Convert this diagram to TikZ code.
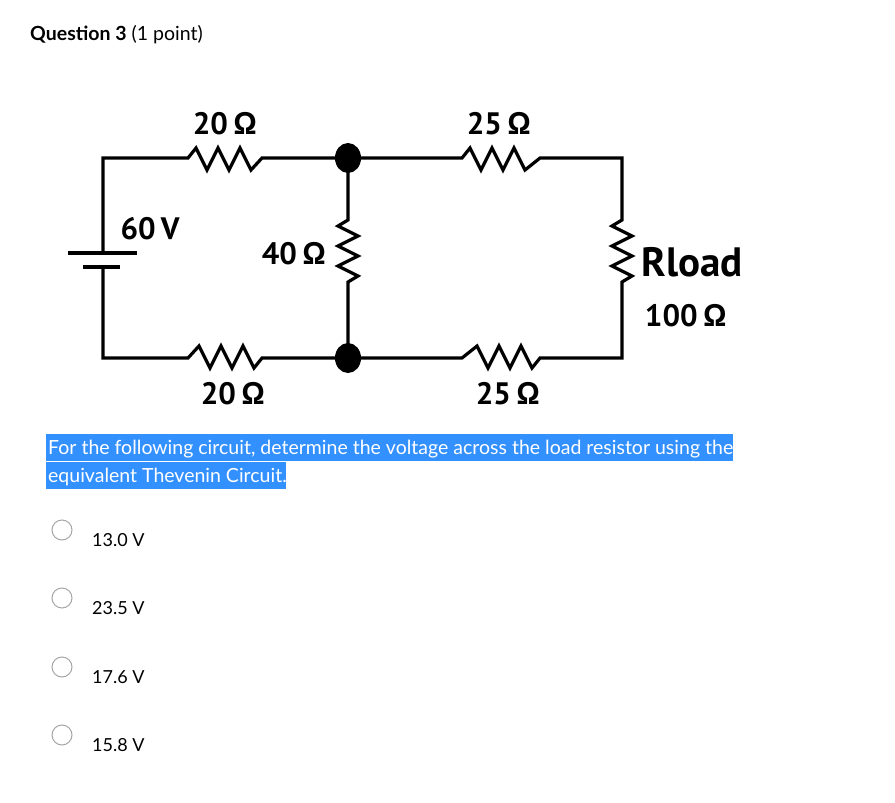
\documentclass[tikz,border=0pt]{standalone}
\usepackage{fontspec}
\setmainfont{Lato}
\newfontfamily\circfont{PT Sans}
\definecolor{hl}{HTML}{3390FF}
\begin{document}
\begin{tikzpicture}[x=1pt,y=-1pt,
  wire/.style={line width=3.2pt,line join=miter},
  clab/.style={font=\circfont\bfseries\fontsize{31}{31}\selectfont,inner sep=0pt},
  opt/.style={font=\fontsize{18}{18}\selectfont,anchor=west,inner sep=0pt},
  radio/.style={circle,draw=gray!70,line width=1pt,minimum size=20pt,inner sep=0pt,fill=white}]
\useasboundingbox (0,0) rectangle (895,803);
\node[anchor=west,inner sep=0pt,font=\fontsize{19.5}{19.5}\selectfont] (q) at (30,35) {\textbf{Question 3} (1 point)};
% nodes
\coordinate (tl) at (103,158); \coordinate (tr) at (622,158);
\coordinate (bl) at (103,358); \coordinate (br) at (622,358);
\coordinate (tm) at (348,158); \coordinate (bm) at (348,358);
\coordinate (b1) at (103,253); \coordinate (b2) at (103,267);
% wires
\draw[wire] (b1) -- (tl) -- (188,158) -- ++(8,-10) -- ++(11,22) -- ++(11,-22) -- ++(11,22) -- ++(11,-22) -- ++(11,22) -- (262,158) -- (tm) -- (462,158) -- ++(8,-10) -- ++(11,22) -- ++(11,-22) -- ++(11,22) -- ++(11,-22) -- ++(11,22) -- (540,158) -- (tr) -- (622,220) -- ++(-10,6) -- ++(20,10) -- ++(-20,10) -- ++(20,10) -- ++(-20,10) -- ++(20,10) -- ++(-10,6) -- (br) -- (540,358) -- ++(-8,10) -- ++(-11,-22) -- ++(-11,22) -- ++(-11,-22) -- ++(-11,22) -- ++(-11,-22) -- (462,358) -- (bm) -- (262,358) -- ++(-8,10) -- ++(-11,-22) -- ++(-11,22) -- ++(-11,-22) -- ++(-11,22) -- ++(-11,-22) -- (188,358) -- (bl) -- (b2);
\draw[wire] (tm) -- (348,220) -- ++(-10,6) -- ++(20,10) -- ++(-20,10) -- ++(20,10) -- ++(-20,10) -- ++(20,10) -- ++(-10,6) -- (bm);
\draw[wire] (68,253) -- (137,253);
\draw[wire] (83,267) -- (120,267);
\fill (tm) ellipse (13 and 15);
\fill (bm) ellipse (13 and 15);
% labels
\node[clab] (l1) at (225,124) {20\,Ω};
\node[clab] (l2) at (499,124) {25\,Ω};
\node[clab] (l3) at (233,394) {20\,Ω};
\node[clab] (l4) at (508,394) {25\,Ω};
\node[clab] (l5) at (150,229) {60\,V};
\node[clab] (l6) at (294,254) {40\,Ω};
\node[clab,font=\circfont\bfseries\fontsize{41}{41}\selectfont] (l7) at (692,262) {Rload};
\node[clab] (l8) at (686,316) {100\,Ω};
% highlighted text
\fill[hl] (46,434) rectangle (733,461);
\fill[hl] (46,462) rectangle (286,489);
\node[anchor=west,inner sep=0pt,text=white,font=\fontsize{19.5}{19.5}\selectfont] (t1) at (48,449) {For the following circuit, determine the voltage across the load resistor using the};
\node[anchor=west,inner sep=0pt,text=white,font=\fontsize{19.5}{19.5}\selectfont] (t2) at (48,477) {equivalent Thevenin Circuit.};
% options
\node[radio] (r1) at (62,530) {}; \node[opt] (o1) at (92,540) {13.0 V};
\node[radio] (r2) at (62,598) {}; \node[opt] (o2) at (92,608) {23.5 V};
\node[radio] (r3) at (62,667) {}; \node[opt] (o3) at (92,677) {17.6 V};
\node[radio] (r4) at (62,735) {}; \node[opt] (o4) at (92,745) {15.8 V};
\end{tikzpicture}
\end{document}
